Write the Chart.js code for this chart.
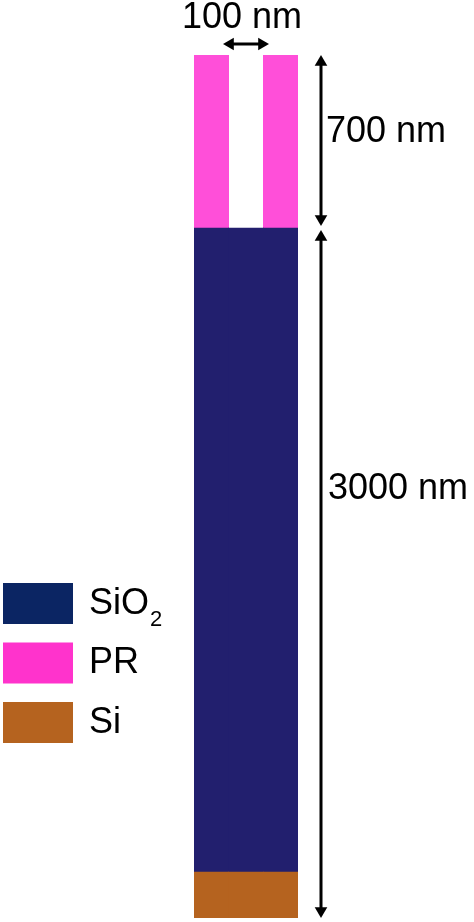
<!DOCTYPE html>
<html>
<head>
<meta charset="utf-8">
<script src="https://cdn.jsdelivr.net/npm/chart.js@4/dist/chart.umd.min.js"></script>
<style>
  html, body { margin: 0; padding: 0; background: #fff; }
  #wrap { width: 474px; height: 922px; }
</style>
</head>
<body>
<div id="wrap"><canvas id="c"></canvas></div>
<script>
// columns across the stack: left PR pillar, trench, right PR pillar
const columns = ['left', 'trench', 'right'];
// layer ranges in drawing units (bottom, top)
const siLayer = [[0, 46], [0, 46], [0, 46]];
const sio2Layer = [[46, 690], [46, 690], [46, 690]];
const prLayer = [[690, 863], null, [690, 863]];
const dimLabels = ['100 nm', '700 nm', '3000 nm'];
const legendItems = [
  { label: 'SiO', sub: '2', color: '#0b2563' },
  { label: 'PR', sub: '', color: '#ff33cc' },
  { label: 'Si', sub: '', color: '#b5631f' }
];

const font = '36px "Liberation Sans", Arial, sans-serif';

function arrowHead(ctx, x, y, dir) {
  ctx.beginPath();
  const s = 9;
  if (dir === 'up') { ctx.moveTo(x, y); ctx.lineTo(x - s * 0.7, y + s * 1.2); ctx.lineTo(x + s * 0.7, y + s * 1.2); }
  if (dir === 'down') { ctx.moveTo(x, y); ctx.lineTo(x - s * 0.7, y - s * 1.2); ctx.lineTo(x + s * 0.7, y - s * 1.2); }
  if (dir === 'left') { ctx.moveTo(x, y); ctx.lineTo(x + s * 1.2, y - s * 0.7); ctx.lineTo(x + s * 1.2, y + s * 0.7); }
  if (dir === 'right') { ctx.moveTo(x, y); ctx.lineTo(x - s * 1.2, y - s * 0.7); ctx.lineTo(x - s * 1.2, y + s * 0.7); }
  ctx.closePath();
  ctx.fill();
}

function vArrow(ctx, x, y1, y2) {
  ctx.beginPath();
  ctx.moveTo(x, y1 + 4);
  ctx.lineTo(x, y2 - 4);
  ctx.stroke();
  arrowHead(ctx, x, y1, 'up');
  arrowHead(ctx, x, y2, 'down');
}

const annotations = {
  id: 'annotations',
  afterDraw(chart) {
    const ctx = chart.ctx;
    const xs = chart.scales.x, ys = chart.scales.y;
    const top = ys.getPixelForValue(prLayer[0][1]);
    const mid = ys.getPixelForValue(prLayer[0][0]);
    const bot = ys.getPixelForValue(siLayer[0][0]);
    const right = chart.chartArea.right;
    ctx.save();
    ctx.fillStyle = '#000';
    ctx.strokeStyle = '#000';
    ctx.lineWidth = 3;
    // vertical dimension arrows
    const ax = right + 23;
    vArrow(ctx, ax, top, mid - 2);
    vArrow(ctx, ax, mid + 2, bot);
    // horizontal trench arrow
    const cx = xs.getPixelForValue(1);
    const gl = cx - 23;
    const gr = cx + 23;
    const ay = top - 11;
    ctx.beginPath();
    ctx.moveTo(gl + 4, ay);
    ctx.lineTo(gr - 4, ay);
    ctx.stroke();
    arrowHead(ctx, gl, ay, 'left');
    arrowHead(ctx, gr, ay, 'right');
    // labels
    ctx.font = font;
    ctx.textBaseline = 'middle';
    ctx.textAlign = 'center';
    ctx.fillText(dimLabels[0], cx - 4, 18);
    ctx.textAlign = 'left';
    ctx.fillText(dimLabels[1], ax + 5, (top + mid) / 2 - 9);
    ctx.fillText(dimLabels[2], ax + 7, 489);
    // legend
    legendItems.forEach((item, i) => {
      const y = 583 + i * 59.5;
      ctx.fillStyle = item.color;
      ctx.fillRect(3, y, 70, 41);
      ctx.fillStyle = '#000';
      ctx.font = font;
      ctx.fillText(item.label, 89, y + 21);
      if (item.sub) {
        const w = ctx.measureText(item.label).width;
        ctx.font = '22px "Liberation Sans", Arial, sans-serif';
        ctx.fillText(item.sub, 90 + w, y + 37);
      }
    });
    ctx.restore();
  }
};

new Chart(document.getElementById('c'), {
  type: 'bar',
  data: {
    labels: columns,
    datasets: [
      { label: 'Si', data: siLayer, backgroundColor: '#b5631f' },
      { label: 'SiO2', data: sio2Layer, backgroundColor: '#221f6e' },
      { label: 'PR', data: prLayer, backgroundColor: ['#ff4fd9', '#ffffff', '#ff4fd9'] }
    ]
  },
  options: {
    responsive: true,
    maintainAspectRatio: false,
    animation: false,
    layout: { padding: { left: 194, right: 176, top: 55, bottom: 4 } },
    datasets: { bar: { barPercentage: 1, categoryPercentage: 1, borderWidth: 0, grouped: false } },
    plugins: { legend: { display: false }, tooltip: { enabled: false } },
    scales: {
      x: { display: false, offset: true, grid: { display: false } },
      y: { display: false, min: 0, max: 863 }
    }
  },
  plugins: [annotations]
});
</script>
</body>
</html>
